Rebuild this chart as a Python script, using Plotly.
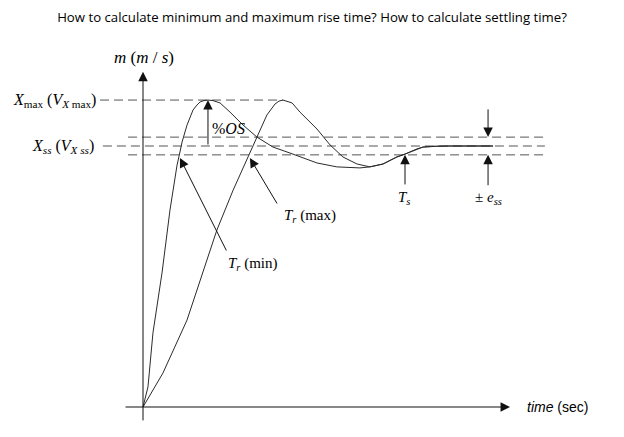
import plotly.graph_objects as go

# step responses (time in arbitrary units, response as a fraction of X_ss)
t_fast = [0, 0.19, 0.38, 0.73, 1.03, 1.30, 1.41, 1.49, 1.68, 1.91, 2.06, 2.18, 2.33, 2.48,
          2.67, 2.94, 3.32, 3.82, 4.35, 4.96, 5.61, 5.99, 6.64, 7.40, 8.28, 8.66, 9.16,
          9.69, 10.0, 10.46, 10.69, 11.20, 11.72, 13.36]
m_fast = [0, 0.077, 0.284, 0.517, 0.755, 0.927, 0.977, 1.015, 1.080, 1.138, 1.157, 1.169,
          1.174, 1.176, 1.174, 1.165, 1.130, 1.080, 1.034, 0.996, 0.973, 0.958, 0.935,
          0.920, 0.916, 0.920, 0.931, 0.958, 0.969, 0.989, 0.996, 0.999, 1.0, 1.0]
t_slow = [0, 0.76, 1.68, 2.29, 2.82, 3.44, 4.05, 4.35, 4.73, 5.04, 5.19, 5.34, 5.50, 5.69,
          5.99, 6.64, 7.14, 7.63, 8.17, 8.66, 9.16, 9.69, 10.0, 10.46, 10.69, 11.20, 11.72,
          13.36]
m_slow = [0, 0.130, 0.333, 0.513, 0.678, 0.831, 0.966, 1.034, 1.119, 1.161, 1.172, 1.176,
          1.172, 1.165, 1.130, 1.065, 1.004, 0.958, 0.931, 0.920, 0.931, 0.958, 0.969,
          0.989, 0.996, 0.999, 1.0, 1.0]

# reference levels and instants
X_SS = 1.0
X_MAX = 1.176
BAND = 0.034          # +/- e_ss band around X_ss
T_PEAK_FAST = 2.48
T_PEAK_SLOW = 5.34
T_RMIN = 1.41         # fast curve enters the band
T_RMAX = 4.08         # slow curve enters the band
T_S = 10.0
T_ESS = 13.17
T_END = 15.34         # end of the dashed guides

INK = "#2b2b2b"
GUIDE = "#555555"
SERIF = "Liberation Serif"

fig = go.Figure()

# dashed guide lines
guides = [
    ([-1.64, T_PEAK_SLOW], [X_MAX, X_MAX]),
    ([-0.57, T_END], [X_SS + BAND, X_SS + BAND]),
    ([-1.53, T_END], [X_SS, X_SS]),
    ([-0.57, T_END], [X_SS - BAND, X_SS - BAND]),
]
for gx, gy in guides:
    fig.add_trace(go.Scatter(x=gx, y=gy, mode="lines",
                             line=dict(color=GUIDE, width=1, dash="9px,5px"),
                             hoverinfo="skip"))

# the two responses
for tx, my in [(t_fast, m_fast), (t_slow, m_slow)]:
    fig.add_trace(go.Scatter(x=tx, y=my, mode="lines",
                             line=dict(color=INK, width=1),
                             hoverinfo="skip"))

def arrow(x, y, ax, ay):
    fig.add_annotation(x=x, y=y, ax=ax, ay=ay, xref="x", yref="y", axref="x", ayref="y",
                       text="", showarrow=True, arrowhead=2,
                       arrowsize=1.9, arrowwidth=1, arrowcolor="#111111")

# axes
arrow(0, 1.284, 0, -0.057)
arrow(14.01, 0, -0.725, 0)

# %OS, rise times, settling time, error band
arrow(T_PEAK_FAST, X_MAX, T_PEAK_FAST, X_SS)
arrow(T_RMIN, 0.954, 3.21, 0.594)
arrow(T_RMAX, 0.954, 5.15, 0.774)
arrow(T_S, X_SS - BAND, T_S, 0.847)
arrow(T_ESS, X_SS + BAND, T_ESS, 1.146)
arrow(T_ESS, X_SS - BAND, T_ESS, 0.844)

def label(x, y, text, size=16, anchor="center", family=SERIF):
    fig.add_annotation(x=x, y=y, xref="x", yref="y", text=text, showarrow=False,
                       xanchor=anchor, yanchor="middle",
                       font=dict(family=family, size=size, color="black"))

label(0.05, 1.34, "<i>m</i> (<i>m</i> / <i>s</i>)", size=17)
label(-1.70, X_MAX, "<i>X</i><sub>max</sub> (<i>V</i><sub><i>X</i> max</sub>)", anchor="right")
label(-1.81, X_SS, "<i>X</i><sub><i>ss</i></sub> (<i>V</i><sub><i>X ss</i></sub>)", anchor="right")
label(2.55, 1.068, "%<i>OS</i>", anchor="left")
label(5.30, 0.733, "<i>T</i><sub><i>r</i></sub> (max)", size=15, anchor="left")
label(3.18, 0.548, "<i>T</i><sub><i>r</i></sub> (min)", size=15, anchor="left")
label(9.97, 0.800, "<i>T</i><sub><i>s</i></sub>", size=15)
label(13.20, 0.800, "± <i>e</i><sub><i>ss</i></sub>", size=15)
label(14.57, 0, "<i>time</i> (sec)", size=14, anchor="left", family="Liberation Sans")

# the page body has an 8px margin, so the figure is 8px smaller than the window
fig.update_layout(
    width=616, height=429, autosize=False,
    margin=dict(l=0, r=0, t=0, b=0),
    paper_bgcolor="white", plot_bgcolor="white",
    showlegend=False,
    title=dict(text="How to calculate minimum and maximum rise time? How to calculate settling time?",
               x=0.4935, xanchor="center", y=0.979, yanchor="middle",
               font=dict(family="Open Sans", size=13.2, color="black")),
)
fig.update_xaxes(visible=False, range=[-5.1527, 18.359], fixedrange=True)
fig.update_yaxes(visible=False, range=[-0.1149, 1.5287], fixedrange=True)

fig.write_html("out.html")
